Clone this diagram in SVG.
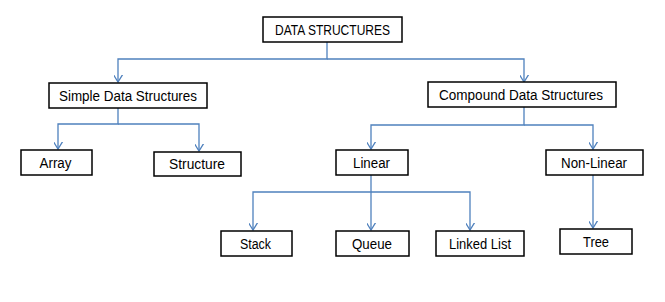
<svg xmlns="http://www.w3.org/2000/svg" width="665" height="302" viewBox="0 0 665 302">
<style>
.box{fill:#fff;stroke:#000;stroke-width:1.5}
.lbl{font-family:"Liberation Sans",Arial,sans-serif;font-size:14px;fill:#000;text-anchor:middle}
.con{fill:none;stroke:#4F81BD;stroke-width:1.3}
</style>
<defs>
<marker id="ah" markerUnits="userSpaceOnUse" markerWidth="14" markerHeight="14" viewBox="-7 -10 14 14" refX="0" refY="0" orient="auto-start-reverse">
<path d="M-8,-5 L0,0 L-8,5" fill="none" stroke="#4F81BD" stroke-width="1.3"/>
</marker>
</defs>
<rect width="665" height="302" fill="#fff"/>
<g id="connectors">
<path class="con" d="M327,42 V59 H118 V82" marker-end="url(#ah)"/>
<path class="con" d="M327,59 H524 V82" marker-end="url(#ah)"/>
<path class="con" d="M118,108 V124 H58 V149" marker-end="url(#ah)"/>
<path class="con" d="M118,124 H199 V151" marker-end="url(#ah)"/>
<path class="con" d="M524,107 V125 H371 V149" marker-end="url(#ah)"/>
<path class="con" d="M524,125 H593 V149" marker-end="url(#ah)"/>
<path class="con" d="M371,175 V230" marker-end="url(#ah)"/>
<path class="con" d="M371,192 H253 V230" marker-end="url(#ah)"/>
<path class="con" d="M371,192 H470 V230" marker-end="url(#ah)"/>
<path class="con" d="M593,175 V228" marker-end="url(#ah)"/>
</g>
<g id="data-structures"><rect class="box" x="263" y="17" width="139" height="25"/><text class="lbl" x="332.5" y="34.5" textLength="115" lengthAdjust="spacingAndGlyphs">DATA STRUCTURES</text></g>
<g id="simple"><rect class="box" x="49" y="83" width="158" height="25"/><text class="lbl" x="128" y="101" textLength="138" lengthAdjust="spacingAndGlyphs">Simple Data Structures</text></g>
<g id="compound"><rect class="box" x="428" y="82" width="188" height="25"/><text class="lbl" x="521" y="100" textLength="164" lengthAdjust="spacingAndGlyphs">Compound Data Structures</text></g>
<g id="array"><rect class="box" x="21" y="150" width="71" height="25"/><text class="lbl" x="55.5" y="167.5" textLength="32" lengthAdjust="spacingAndGlyphs">Array</text></g>
<g id="structure"><rect class="box" x="154" y="152" width="87" height="24"/><text class="lbl" x="197" y="168.5" textLength="56" lengthAdjust="spacingAndGlyphs">Structure</text></g>
<g id="linear"><rect class="box" x="336" y="150" width="72" height="25"/><text class="lbl" x="371.5" y="167.5" textLength="37" lengthAdjust="spacingAndGlyphs">Linear</text></g>
<g id="non-linear"><rect class="box" x="546" y="150" width="97" height="25"/><text class="lbl" x="594" y="167.5" textLength="66" lengthAdjust="spacingAndGlyphs">Non-Linear</text></g>
<g id="stack"><rect class="box" x="221" y="231" width="71" height="25"/><text class="lbl" x="255.5" y="249" textLength="31" lengthAdjust="spacingAndGlyphs">Stack</text></g>
<g id="queue"><rect class="box" x="336" y="231" width="73" height="25"/><text class="lbl" x="372" y="249" textLength="40" lengthAdjust="spacingAndGlyphs">Queue</text></g>
<g id="linked-list"><rect class="box" x="436" y="231" width="88" height="25"/><text class="lbl" x="480" y="249" textLength="62" lengthAdjust="spacingAndGlyphs">Linked List</text></g>
<g id="tree"><rect class="box" x="560" y="229" width="72" height="25"/><text class="lbl" x="596" y="246.5" textLength="26" lengthAdjust="spacingAndGlyphs">Tree</text></g>
</svg>
